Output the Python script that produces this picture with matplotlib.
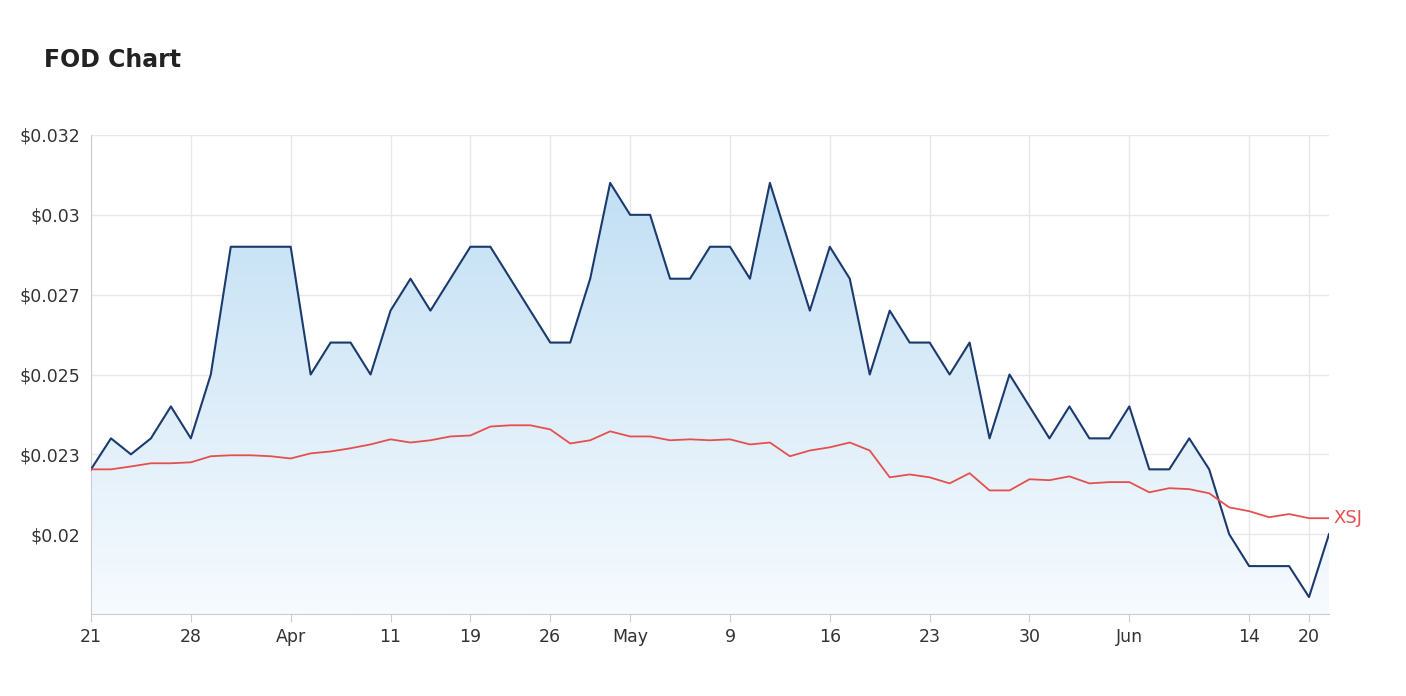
import matplotlib.pyplot as plt
import numpy as np
from matplotlib.patches import Polygon

# pixel-read values converted to price units
fod_px = [470, 439, 455, 439, 407, 439, 375, 247, 247, 247, 247, 375, 343, 343, 375, 311,
          279, 311, 279, 247, 247, 279, 311, 343, 343, 279, 183, 215, 215, 279, 279, 247,
          247, 279, 183, 247, 311, 247, 279, 375, 311, 343, 343, 375, 343, 439, 375, 407,
          439, 407, 439, 439, 407, 470, 470, 439, 470, 535, 567, 567, 567, 598, 535]
xsj_px = [470, 470, 467, 464, 464, 463, 457, 456, 456, 457, 459, 454, 452, 449, 445, 440,
          443, 441, 437, 436, 427, 426, 426, 430, 444, 441, 432, 437, 437, 441, 440, 441,
          440, 445, 443, 457, 451, 448, 443, 451, 478, 475, 478, 484, 474, 491, 491, 480,
          481, 477, 484, 483, 483, 493, 489, 490, 494, 508, 512, 518, 515, 519, 519]


def to_price(px):
    return [round(0.0325 - (p - 135) / 80 * 0.0025, 5) for p in px]


fod = to_price(fod_px)
xsj = to_price(xsj_px)

x_ticks = [0, 5, 10, 15, 19, 23, 27, 32, 37, 42, 47, 52, 58, 61]
x_labels = ["21", "28", "Apr", "11", "19", "26", "May", "9", "16", "23", "30", "Jun", "14", "20"]
y_ticks = [0.02, 0.0225, 0.025, 0.0275, 0.03, 0.0325]
y_labels = ["$0.02", "$0.023", "$0.025", "$0.027", "$0.03", "$0.032"]

fig = plt.figure(figsize=(14.06, 6.96), dpi=100)
ax = fig.add_axes([91 / 1406, 82 / 696, 1238 / 1406, 479 / 696])
x = np.arange(len(fod))
ymin, ymax = 0.0175, 0.0325

# gradient area under FOD line
grad = np.linspace(0, 1, 256).reshape(-1, 1)
img = ax.imshow(grad, extent=[0, 62, ymin, ymax], aspect="auto", origin="lower",
                cmap=plt.matplotlib.colors.LinearSegmentedColormap.from_list(
                    "g", ["#f7fbfe", "#bcdcf3"]), zorder=1)
poly = Polygon(np.column_stack([np.r_[x, x[-1], 0], np.r_[fod, ymin, ymin]]),
               closed=True, transform=ax.transData, facecolor="none", edgecolor="none")
ax.add_patch(poly)
img.set_clip_path(poly)

ax.plot(x, fod, color="#1b3a6e", lw=1.5, zorder=3)
ax.plot(x, xsj, color="#e5504f", lw=1.3, zorder=3)
ax.text(62.2, xsj[-1], "XSJ", color="#e5504f", fontsize=13, va="center", clip_on=False)

ax.set_xlim(0, 62)
ax.set_ylim(ymin, ymax)
ax.set_xticks(x_ticks)
ax.set_xticklabels(x_labels, fontsize=12.5, color="#333333")
ax.set_yticks(y_ticks)
ax.set_yticklabels(y_labels, fontsize=12.5, color="#333333")
ax.grid(color="#e8e8e8", lw=1, zorder=0)
ax.set_axisbelow(True)
ax.tick_params(length=0, pad=8)
ax.tick_params(axis="x", length=6, color="#cccccc", pad=4)
for s in ["top", "right"]:
    ax.spines[s].set_visible(False)
for s in ["left", "bottom"]:
    ax.spines[s].set_color("#cccccc")

fig.text(44 / 1406, 1 - 60 / 696, "FOD Chart", fontsize=17, fontweight="bold",
         color="#222222", va="center")
fig.savefig("out.png", dpi=100)
